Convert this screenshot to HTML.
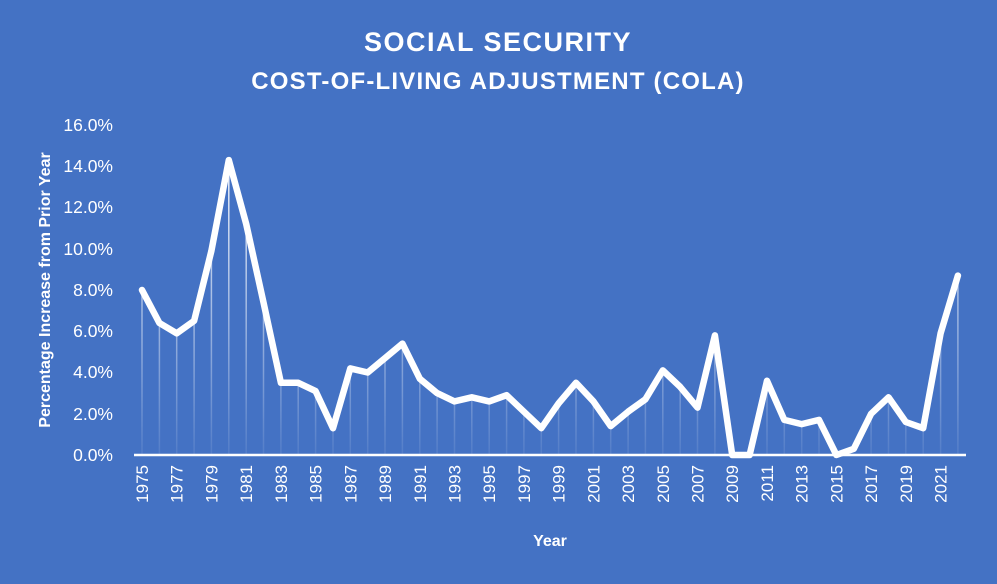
<!DOCTYPE html>
<html><head><style>body{margin:0}svg{display:block}</style></head><body>
<svg width="997" height="584" xmlns="http://www.w3.org/2000/svg" font-family="Liberation Sans, sans-serif">
<defs><linearGradient id="g" gradientUnits="userSpaceOnUse" x1="0" y1="160" x2="0" y2="455"><stop offset="0" stop-color="#fff" stop-opacity="0.95"/><stop offset="1" stop-color="#fff" stop-opacity="0.08"/></linearGradient></defs>
<rect width="997" height="584" fill="#4472C4"/>
<text x="498" y="51" text-anchor="middle" fill="#fff" font-size="27" font-weight="bold" letter-spacing="1.5">SOCIAL SECURITY</text>
<text x="498" y="89" text-anchor="middle" fill="#fff" font-size="24" font-weight="bold" letter-spacing="1.2">COST-OF-LIVING ADJUSTMENT (COLA)</text>
<g fill="#fff" font-size="17.5" text-anchor="end">
<text x="113" y="461">0.0%</text><text x="113" y="420">2.0%</text><text x="113" y="378">4.0%</text><text x="113" y="337">6.0%</text><text x="113" y="296">8.0%</text><text x="113" y="255">10.0%</text><text x="113" y="213">12.0%</text><text x="113" y="172">14.0%</text><text x="113" y="131">16.0%</text>
</g>
<text transform="translate(50,290) rotate(-90)" text-anchor="middle" fill="#fff" font-size="16" font-weight="bold">Percentage Increase from Prior Year</text>
<text x="550" y="546" text-anchor="middle" fill="#fff" font-size="16" font-weight="bold">Year</text>
<line x1="134" y1="455" x2="966" y2="455" stroke="#fff" stroke-width="2.5"/>
<path stroke="url(#g)" stroke-width="1.5" fill="none" d="M142 290V455M159.4 323V455M176.7 333.3V455M194.1 320.9V455M211.4 250.8V455M228.8 160.1V455M246.2 224V455M263.5 302.4V455M280.9 382.8V455M298.2 382.8V455M315.6 391.1V455M333 428.2V455M350.3 368.4V455M367.7 372.5V455M385 358.1V455M402.4 343.6V455M419.8 378.7V455M437.1 393.1V455M454.5 401.4V455M471.8 397.3V455M489.2 401.4V455M506.6 395.2V455M523.9 411.7V455M541.3 428.2V455M558.6 403.4V455M576 382.8V455M593.4 401.4V455M610.7 426.1V455M628.1 411.7V455M645.4 399.3V455M662.8 370.4V455M680.2 386.9V455M697.5 407.6V455M714.9 335.4V455M767 380.8V455M784.3 419.9V455M801.7 424.1V455M819 419.9V455M871.1 413.8V455M888.5 397.3V455M905.8 422V455M923.2 428.2V455M940.6 333.3V455M957.9 275.6V455"/>
<path fill="none" stroke="#fff" stroke-width="6.5" stroke-linejoin="round" stroke-linecap="round" d="M142 290L159.4 323L176.7 333.3L194.1 320.9L211.4 250.8L228.8 160.1L246.2 224L263.5 302.4L280.9 382.8L298.2 382.8L315.6 391.1L333 428.2L350.3 368.4L367.7 372.5L385 358.1L402.4 343.6L419.8 378.7L437.1 393.1L454.5 401.4L471.8 397.3L489.2 401.4L506.6 395.2L523.9 411.7L541.3 428.2L558.6 403.4L576 382.8L593.4 401.4L610.7 426.1L628.1 411.7L645.4 399.3L662.8 370.4L680.2 386.9L697.5 407.6L714.9 335.4L732.2 455L749.6 455L767 380.8L784.3 419.9L801.7 424.1L819 419.9L836.4 455L853.8 448.8L871.1 413.8L888.5 397.3L905.8 422L923.2 428.2L940.6 333.3L957.9 275.6"/>
<g fill="#fff" font-size="17" text-anchor="end">
<text transform="translate(148,465) rotate(-90)">1975</text>
<text transform="translate(182.7,465) rotate(-90)">1977</text>
<text transform="translate(217.4,465) rotate(-90)">1979</text>
<text transform="translate(252.2,465) rotate(-90)">1981</text>
<text transform="translate(286.9,465) rotate(-90)">1983</text>
<text transform="translate(321.6,465) rotate(-90)">1985</text>
<text transform="translate(356.3,465) rotate(-90)">1987</text>
<text transform="translate(391,465) rotate(-90)">1989</text>
<text transform="translate(425.8,465) rotate(-90)">1991</text>
<text transform="translate(460.5,465) rotate(-90)">1993</text>
<text transform="translate(495.2,465) rotate(-90)">1995</text>
<text transform="translate(529.9,465) rotate(-90)">1997</text>
<text transform="translate(564.6,465) rotate(-90)">1999</text>
<text transform="translate(599.4,465) rotate(-90)">2001</text>
<text transform="translate(634.1,465) rotate(-90)">2003</text>
<text transform="translate(668.8,465) rotate(-90)">2005</text>
<text transform="translate(703.5,465) rotate(-90)">2007</text>
<text transform="translate(738.2,465) rotate(-90)">2009</text>
<text transform="translate(773,465) rotate(-90)">2011</text>
<text transform="translate(807.7,465) rotate(-90)">2013</text>
<text transform="translate(842.4,465) rotate(-90)">2015</text>
<text transform="translate(877.1,465) rotate(-90)">2017</text>
<text transform="translate(911.8,465) rotate(-90)">2019</text>
<text transform="translate(946.6,465) rotate(-90)">2021</text>
</g>
</svg>
</body></html>
